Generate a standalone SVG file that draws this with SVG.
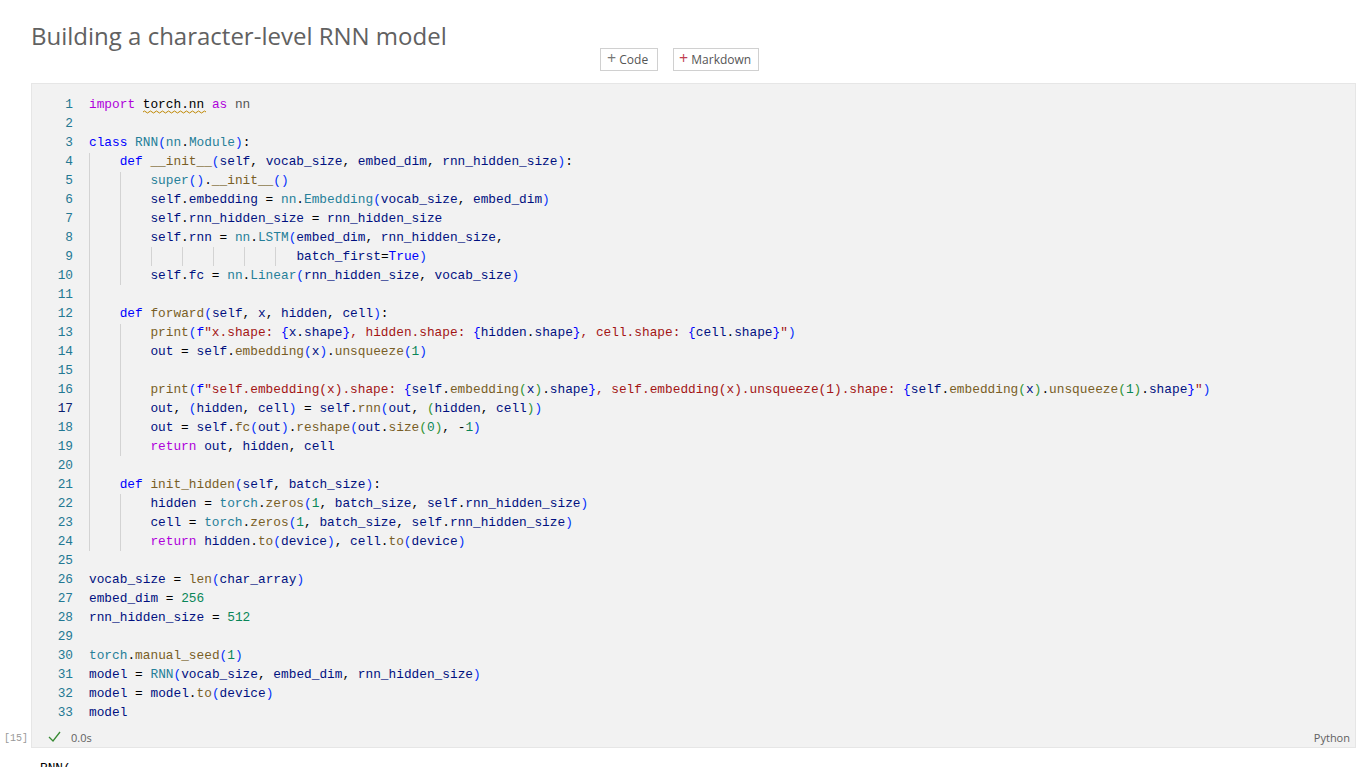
<svg xmlns="http://www.w3.org/2000/svg" width="1362" height="767" viewBox="0 0 1362 767">
<style>
.code{font-family:"Liberation Mono","DejaVu Sans Mono",monospace;font-size:12.8px;fill:#000;white-space:pre}
.ln{font-family:"Liberation Mono","DejaVu Sans Mono",monospace;font-size:12.8px;fill:#237893;text-anchor:end}
.k{fill:#af00db}.d{fill:#0000ff}.f{fill:#795e26}.c{fill:#267f99}.v{fill:#001080}.n{fill:#098658}.s{fill:#a31515}.p{fill:#0431fa}.q{fill:#319331}.b{fill:#0000ff}
.ui{font-family:"Open Sans","Liberation Sans",sans-serif}
.g{stroke:#d3d3d3;stroke-width:1}
</style>
<rect width="1362" height="767" fill="#fff"/>
<g id="title"><text class="ui" x="31" y="45" font-size="24" fill="#616161">Building a character-level RNN model</text></g>
<g id="btn-code"><rect x="600.5" y="48.5" width="57" height="22" fill="#fff" stroke="#d0d0d0"/><text class="ui" x="607" y="64" font-size="12" fill="#555"><tspan font-size="16" fill="#777">+</tspan> Code</text></g>
<g id="btn-md"><rect x="673.5" y="48.5" width="85" height="22" fill="#fff" stroke="#d0d0d0"/><text class="ui" x="679" y="64" font-size="12" fill="#555"><tspan font-size="16" fill="#c04050">+</tspan> Markdown</text></g>
<g id="cell">
<rect x="31.5" y="83.5" width="1324" height="664" fill="#f2f2f2" stroke="#e6e6e6"/>
<g id="guides" class="g">
<line x1="89.5" y1="153" x2="89.5" y2="551"/>
<line x1="120.5" y1="172" x2="120.5" y2="285"/>
<line x1="120.5" y1="324" x2="120.5" y2="456"/>
<line x1="120.5" y1="494" x2="120.5" y2="551"/>
<line x1="151.5" y1="247" x2="151.5" y2="266"/>
<line x1="182.5" y1="247" x2="182.5" y2="266"/>
<line x1="213.5" y1="247" x2="213.5" y2="266"/>
<line x1="244.5" y1="247" x2="244.5" y2="266"/>
<line x1="275.5" y1="247" x2="275.5" y2="266"/>
</g>
<g id="linenums">
<text class="ln" x="73" y="108">1</text><text class="ln" x="73" y="127">2</text><text class="ln" x="73" y="146">3</text><text class="ln" x="73" y="165">4</text><text class="ln" x="73" y="184">5</text><text class="ln" x="73" y="203">6</text><text class="ln" x="73" y="222">7</text><text class="ln" x="73" y="241">8</text><text class="ln" x="73" y="260">9</text><text class="ln" x="73" y="279">10</text><text class="ln" x="73" y="298">11</text><text class="ln" x="73" y="317">12</text><text class="ln" x="73" y="336">13</text><text class="ln" x="73" y="355">14</text><text class="ln" x="73" y="374">15</text><text class="ln" x="73" y="393">16</text><text class="ln" x="73" y="412" fill="#0b216f" style="fill:#0b216f">17</text><text class="ln" x="73" y="431">18</text><text class="ln" x="73" y="450">19</text><text class="ln" x="73" y="469">20</text><text class="ln" x="73" y="488">21</text><text class="ln" x="73" y="507">22</text><text class="ln" x="73" y="526">23</text><text class="ln" x="73" y="545">24</text><text class="ln" x="73" y="564">25</text><text class="ln" x="73" y="583">26</text><text class="ln" x="73" y="602">27</text><text class="ln" x="73" y="621">28</text><text class="ln" x="73" y="640">29</text><text class="ln" x="73" y="659">30</text><text class="ln" x="73" y="678">31</text><text class="ln" x="73" y="697">32</text><text class="ln" x="73" y="716">33</text>
</g>
<g id="code">
<text class="code" x="89" y="108"><tspan class="k">import</tspan> torch.nn <tspan class="k">as</tspan> <tspan fill="#555">nn</tspan></text>
<path d="M143 112 q1.5 -2 3 0 t3 0 t3 0 t3 0 t3 0 t3 0 t3 0 t3 0 t3 0 t3 0 t3 0 t3 0 t3 0 t3 0 t3 0 t3 0 t3 0 t3 0 t3 0 t3 0 t3 0" fill="none" stroke="#bf8803" stroke-width="1"/>
<text class="code" x="89" y="146"><tspan class="d">class</tspan> <tspan class="c">RNN</tspan><tspan class="p">(</tspan><tspan class="c">nn</tspan>.<tspan class="c">Module</tspan><tspan class="p">)</tspan>:</text>
<text class="code" x="119.7" y="165"><tspan class="d">def</tspan> <tspan class="f">__init__</tspan><tspan class="p">(</tspan><tspan class="v">self</tspan>, <tspan class="v">vocab_size</tspan>, <tspan class="v">embed_dim</tspan>, <tspan class="v">rnn_hidden_size</tspan><tspan class="p">)</tspan>:</text>
<text class="code" x="150.4" y="184"><tspan class="c">super</tspan><tspan class="p">()</tspan>.<tspan class="f">__init__</tspan><tspan class="p">()</tspan></text>
<text class="code" x="150.4" y="203"><tspan class="v">self</tspan>.<tspan class="v">embedding</tspan> = <tspan class="c">nn</tspan>.<tspan class="c">Embedding</tspan><tspan class="p">(</tspan><tspan class="v">vocab_size</tspan>, <tspan class="v">embed_dim</tspan><tspan class="p">)</tspan></text>
<text class="code" x="150.4" y="222"><tspan class="v">self</tspan>.<tspan class="v">rnn_hidden_size</tspan> = <tspan class="v">rnn_hidden_size</tspan></text>
<text class="code" x="150.4" y="241"><tspan class="v">self</tspan>.<tspan class="v">rnn</tspan> = <tspan class="c">nn</tspan>.<tspan class="c">LSTM</tspan><tspan class="p">(</tspan><tspan class="v">embed_dim</tspan>, <tspan class="v">rnn_hidden_size</tspan>,</text>
<text class="code" x="296.4" y="260"><tspan class="v">batch_first</tspan>=<tspan class="d">True</tspan><tspan class="p">)</tspan></text>
<text class="code" x="150.4" y="279"><tspan class="v">self</tspan>.<tspan class="v">fc</tspan> = <tspan class="c">nn</tspan>.<tspan class="c">Linear</tspan><tspan class="p">(</tspan><tspan class="v">rnn_hidden_size</tspan>, <tspan class="v">vocab_size</tspan><tspan class="p">)</tspan></text>
<text class="code" x="119.7" y="317"><tspan class="d">def</tspan> <tspan class="f">forward</tspan><tspan class="p">(</tspan><tspan class="v">self</tspan>, <tspan class="v">x</tspan>, <tspan class="v">hidden</tspan>, <tspan class="v">cell</tspan><tspan class="p">)</tspan>:</text>
<text class="code" x="150.4" y="336"><tspan class="f">print</tspan><tspan class="p">(</tspan><tspan class="d">f</tspan><tspan class="s">"x.shape: </tspan><tspan class="b">{</tspan><tspan class="v">x</tspan>.<tspan class="v">shape</tspan><tspan class="b">}</tspan><tspan class="s">, hidden.shape: </tspan><tspan class="b">{</tspan><tspan class="v">hidden</tspan>.<tspan class="v">shape</tspan><tspan class="b">}</tspan><tspan class="s">, cell.shape: </tspan><tspan class="b">{</tspan><tspan class="v">cell</tspan>.<tspan class="v">shape</tspan><tspan class="b">}</tspan><tspan class="s">"</tspan><tspan class="p">)</tspan></text>
<text class="code" x="150.4" y="355"><tspan class="v">out</tspan> = <tspan class="v">self</tspan>.<tspan class="f">embedding</tspan><tspan class="p">(</tspan><tspan class="v">x</tspan><tspan class="p">)</tspan>.<tspan class="f">unsqueeze</tspan><tspan class="p">(</tspan><tspan class="n">1</tspan><tspan class="p">)</tspan></text>
<text class="code" x="150.4" y="393"><tspan class="f">print</tspan><tspan class="p">(</tspan><tspan class="d">f</tspan><tspan class="s">"self.embedding(x).shape: </tspan><tspan class="b">{</tspan><tspan class="v">self</tspan>.<tspan class="f">embedding</tspan><tspan class="q">(</tspan><tspan class="v">x</tspan><tspan class="q">)</tspan>.<tspan class="v">shape</tspan><tspan class="b">}</tspan><tspan class="s">, self.embedding(x).unsqueeze(1).shape: </tspan><tspan class="b">{</tspan><tspan class="v">self</tspan>.<tspan class="f">embedding</tspan><tspan class="q">(</tspan><tspan class="v">x</tspan><tspan class="q">)</tspan>.<tspan class="f">unsqueeze</tspan><tspan class="q">(</tspan><tspan class="n">1</tspan><tspan class="q">)</tspan>.<tspan class="v">shape</tspan><tspan class="b">}</tspan><tspan class="s">"</tspan><tspan class="p">)</tspan></text>
<text class="code" x="150.4" y="412"><tspan class="v">out</tspan>, <tspan class="p">(</tspan><tspan class="v">hidden</tspan>, <tspan class="v">cell</tspan><tspan class="p">)</tspan> = <tspan class="v">self</tspan>.<tspan class="f">rnn</tspan><tspan class="p">(</tspan><tspan class="v">out</tspan>, <tspan class="q">(</tspan><tspan class="v">hidden</tspan>, <tspan class="v">cell</tspan><tspan class="q">)</tspan><tspan class="p">)</tspan></text>
<text class="code" x="150.4" y="431"><tspan class="v">out</tspan> = <tspan class="v">self</tspan>.<tspan class="f">fc</tspan><tspan class="p">(</tspan><tspan class="v">out</tspan><tspan class="p">)</tspan>.<tspan class="f">reshape</tspan><tspan class="p">(</tspan><tspan class="v">out</tspan>.<tspan class="f">size</tspan><tspan class="q">(</tspan><tspan class="n">0</tspan><tspan class="q">)</tspan>, -<tspan class="n">1</tspan><tspan class="p">)</tspan></text>
<text class="code" x="150.4" y="450"><tspan class="k">return</tspan> <tspan class="v">out</tspan>, <tspan class="v">hidden</tspan>, <tspan class="v">cell</tspan></text>
<text class="code" x="119.7" y="488"><tspan class="d">def</tspan> <tspan class="f">init_hidden</tspan><tspan class="p">(</tspan><tspan class="v">self</tspan>, <tspan class="v">batch_size</tspan><tspan class="p">)</tspan>:</text>
<text class="code" x="150.4" y="507"><tspan class="v">hidden</tspan> = <tspan class="c">torch</tspan>.<tspan class="f">zeros</tspan><tspan class="p">(</tspan><tspan class="n">1</tspan>, <tspan class="v">batch_size</tspan>, <tspan class="v">self</tspan>.<tspan class="v">rnn_hidden_size</tspan><tspan class="p">)</tspan></text>
<text class="code" x="150.4" y="526"><tspan class="v">cell</tspan> = <tspan class="c">torch</tspan>.<tspan class="f">zeros</tspan><tspan class="p">(</tspan><tspan class="n">1</tspan>, <tspan class="v">batch_size</tspan>, <tspan class="v">self</tspan>.<tspan class="v">rnn_hidden_size</tspan><tspan class="p">)</tspan></text>
<text class="code" x="150.4" y="545"><tspan class="k">return</tspan> <tspan class="v">hidden</tspan>.<tspan class="f">to</tspan><tspan class="p">(</tspan><tspan class="v">device</tspan><tspan class="p">)</tspan>, <tspan class="v">cell</tspan>.<tspan class="f">to</tspan><tspan class="p">(</tspan><tspan class="v">device</tspan><tspan class="p">)</tspan></text>
<text class="code" x="89" y="583"><tspan class="v">vocab_size</tspan> = <tspan class="f">len</tspan><tspan class="p">(</tspan><tspan class="v">char_array</tspan><tspan class="p">)</tspan></text>
<text class="code" x="89" y="602"><tspan class="v">embed_dim</tspan> = <tspan class="n">256</tspan></text>
<text class="code" x="89" y="621"><tspan class="v">rnn_hidden_size</tspan> = <tspan class="n">512</tspan></text>
<text class="code" x="89" y="659"><tspan class="c">torch</tspan>.<tspan class="f">manual_seed</tspan><tspan class="p">(</tspan><tspan class="n">1</tspan><tspan class="p">)</tspan></text>
<text class="code" x="89" y="678"><tspan class="v">model</tspan> = <tspan class="c">RNN</tspan><tspan class="p">(</tspan><tspan class="v">vocab_size</tspan>, <tspan class="v">embed_dim</tspan>, <tspan class="v">rnn_hidden_size</tspan><tspan class="p">)</tspan></text>
<text class="code" x="89" y="697"><tspan class="v">model</tspan> = <tspan class="v">model</tspan>.<tspan class="f">to</tspan><tspan class="p">(</tspan><tspan class="v">device</tspan><tspan class="p">)</tspan></text>
<text class="code" x="89" y="716"><tspan class="v">model</tspan></text>
</g>
<g id="status">
<path d="M49 737 l4 4 l7 -9" fill="none" stroke="#388a34" stroke-width="1.3"/>
<text class="ui" x="71" y="742" font-size="11" fill="#616161">0.0s</text>
<text class="ui" x="1350" y="742" font-size="11" fill="#616161" text-anchor="end">Python</text>
</g>
</g>
<g id="exec-count"><text x="4" y="741" font-family="Liberation Mono,monospace" font-size="10" fill="#999">[15]</text></g>
<g id="output"><text class="ui" x="4" y="772" font-size="13" fill="#555">...</text><text class="code" x="40" y="772" style="font-family:'Liberation Mono',monospace">RNN(</text></g>
</svg>
